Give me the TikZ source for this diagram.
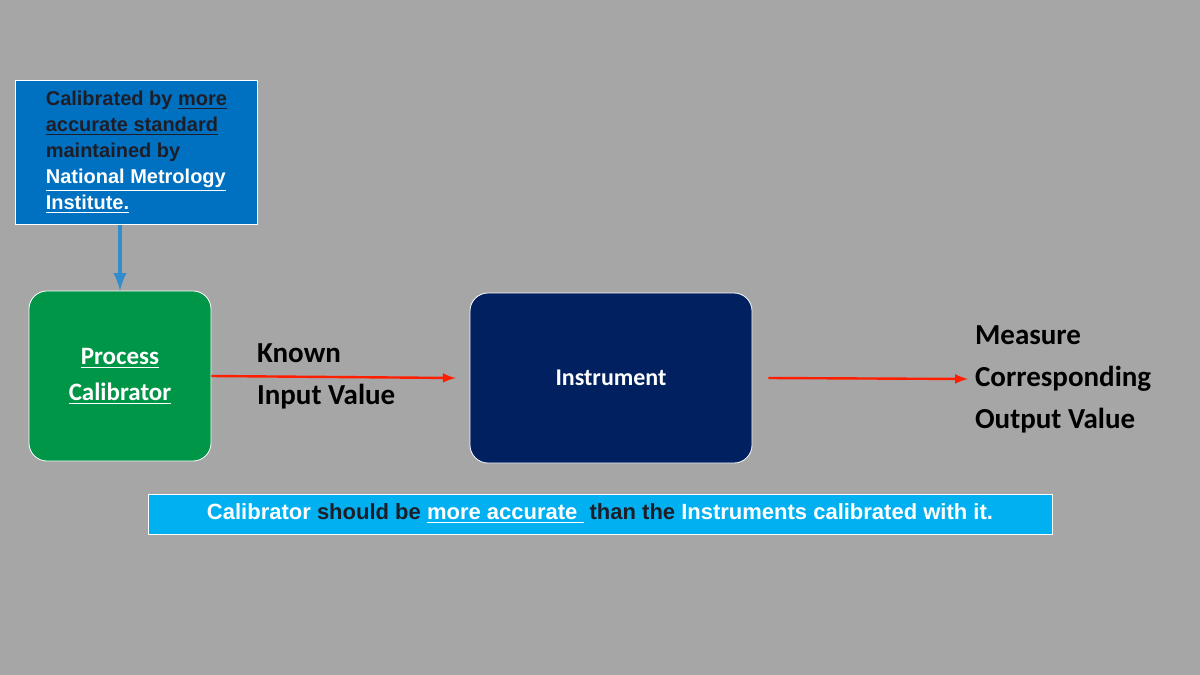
\documentclass[tikz,border=0pt]{standalone}
\usepackage{fontspec}
\setmainfont{Liberation Sans}
\newfontfamily\calfont{Carlito}
\usetikzlibrary{positioning}
\definecolor{bgray}{RGB}{166,166,166}
\definecolor{topblue}{RGB}{0,112,192}
\definecolor{calgreen}{RGB}{0,150,72}
\definecolor{navy}{RGB}{0,32,96}
\definecolor{barblue}{RGB}{0,176,240}
\definecolor{darktxt}{RGB}{30,30,40}
\definecolor{arrred}{RGB}{255,30,0}
\newcommand{\ul}[1]{\underline{#1}}
\begin{document}
\begin{tikzpicture}[x=0.5pt,y=-0.5pt,
  box/.style={draw=white,rounded corners=9pt,font=\calfont\bfseries,text=white},
  redarrow/.style={->,arrred,line width=1.2pt,>=latex}]
\fill[bgray] (0,0) rectangle (1200,675);

\node[draw=white,fill=topblue,minimum width=121pt,minimum height=72pt,
  align=left,font=\bfseries\fontsize{10}{13}\selectfont,text=darktxt,inner sep=3pt,anchor=north west]
  (note) at (15,80) {Calibrated by \ul{more}\\ \ul{accurate standard}\\ maintained by\\
  \textcolor{white}{\ul{National Metrology}}\\ \textcolor{white}{\ul{Institute.}}};

\node[box,fill=calgreen,minimum width=91pt,minimum height=85pt,align=center,
  font=\calfont\bfseries\fontsize{12.5}{18}\selectfont] (cal) at (120,376)
  {\ul{Process}\\ \ul{Calibrator}};
\node[box,fill=navy,minimum width=141pt,minimum height=85pt,
  font=\calfont\bfseries\fontsize{12}{14}\selectfont] (inst) at (611,378) {Instrument};

\node[align=left,font=\calfont\bfseries\fontsize{14.5}{21}\selectfont,anchor=west] (known) at (250,376)
  {Known\\ Input Value};
\node[align=left,font=\calfont\bfseries\fontsize{14.5}{21}\selectfont,anchor=west] (meas) at (968,379)
  {Measure\\ Corresponding\\ Output Value};

\draw[->,>=latex,topblue!80!white,line width=2pt] (note.south-|cal.north) -- (cal.north);
\draw[redarrow] (cal.east) -- ([xshift=-7pt]inst.west);
\draw[redarrow] ([xshift=8pt]inst.east) -- (meas.west);

\node[draw=white,fill=barblue,minimum width=452pt,minimum height=20pt,
  font=\bfseries\fontsize{11}{13}\selectfont,text=white] (note2) at (600,514)
  {Calibrator \textcolor{darktxt}{should be} \ul{more accurate\ } \textcolor{darktxt}{than the} Instruments calibrated with it.};
\end{tikzpicture}
\end{document}
